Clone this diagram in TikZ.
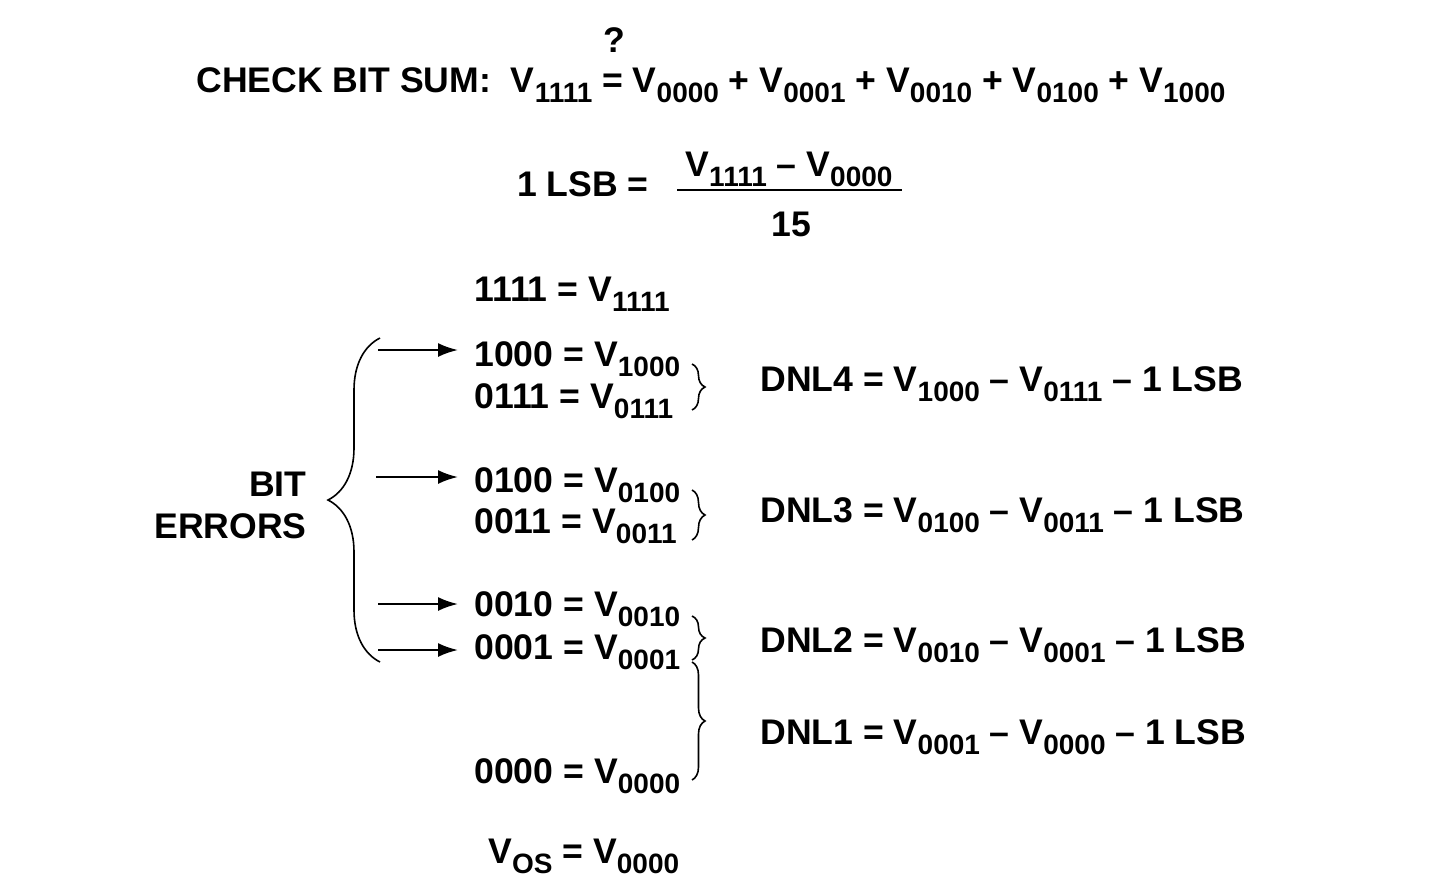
\documentclass[tikz,border=0pt]{standalone}
\usepackage{fontspec}
\setmainfont{Liberation Sans}
\usetikzlibrary{decorations.pathreplacing, arrows.meta}
\newcommand{\Vsub}[1]{V\raisebox{-0.55ex}{\fontsize{14}{16}\selectfont #1}}

\begin{document}
\begin{tikzpicture}[x=0.5pt, y=-0.5pt,
  every node/.style={font=\fontsize{17.8}{20}\selectfont\bfseries, inner sep=0pt},
  row/.style={anchor=base west},
  dnl/.style={anchor=base west},
  cbrace/.style={decorate, decoration={brace, amplitude=6.5pt}, line width=0.8pt},
  bitarrow/.style={-{Latex[length=10pt, width=7pt]}, line width=1.1pt}]
\useasboundingbox (0,0) rectangle (1440,889);
%\draw[help lines] (0,0) grid[step=100] (1440,889);
\node (q) at (614,52) [anchor=base] {?};
\node (sum) at (711,92) [anchor=base] {CHECK BIT SUM:\ \ \Vsub{1111} = \Vsub{0000} + \Vsub{0001} + \Vsub{0010} + \Vsub{0100} + \Vsub{1000}};
\node (lsb) at (655,196) [anchor=base east] {1 LSB =\,};
\node (num) at (789,176) [anchor=base] {\Vsub{1111} -- \Vsub{0000}};
\node (den) at (791,236) [anchor=base] {15};
\draw [line width=1.2pt] (677,190) -- (902,190);

% code rows
\node [row] (r1111) at (474,301) {1111 = \Vsub{1111}};
\node [row] (r1000) at (474,366) {1000 = \Vsub{1000}};
\node [row] (r0111) at (474,408) {0111 = \Vsub{0111}};
\node [row] (r0100) at (474,492) {0100 = \Vsub{0100}};
\node [row] (r0011) at (474,533) {0011 = \Vsub{0011}};
\node [row] (r0010) at (474,616) {0010 = \Vsub{0010}};
\node [row] (r0001) at (474,659) {0001 = \Vsub{0001}};
\node [row] (r0000) at (474,783) {0000 = \Vsub{0000}};
\node [row] (vos) at (488,863) {V\raisebox{-0.55ex}{\fontsize{14}{16}\selectfont OS} = \Vsub{0000}};

% differences
\node [dnl] (dnl4) at (760,391) {DNL4 = \Vsub{1000} -- \Vsub{0111} -- 1 LSB};
\node [dnl] (dnl3) at (760,522) {DNL3 = \Vsub{0100} -- \Vsub{0011} -- 1 LSB};
\node [dnl] (dnl2) at (760,652) {DNL2 = \Vsub{0010} -- \Vsub{0001} -- 1 LSB};
\node [dnl] (dnl1) at (760,744) {DNL1 = \Vsub{0001} -- \Vsub{0000} -- 1 LSB};

\draw [cbrace] (692,364) -- (692,410);
\draw [cbrace] (692,490) -- (692,540);
\draw [cbrace] (692,616) -- (692,660);
\draw [cbrace] (692,662) -- (692,780);

% bit errors
\node (bit) at (307,496) [anchor=base east] {BIT};
\node (err) at (307,538) [anchor=base east] {ERRORS};
\draw [cbrace, decoration={brace, amplitude=26pt, mirror}] (380,338) -- (380,662);
\coordinate (a1) at (378,350);
\coordinate (a2) at (376,477);
\coordinate (a3) at (378,604);
\coordinate (a4) at (378,650);
\draw [bitarrow] (a1) -- ([xshift=-8] r1000.west |- a1);
\draw [bitarrow] (a2) -- ([xshift=-8] r0100.west |- a2);
\draw [bitarrow] (a3) -- ([xshift=-8] r0010.west |- a3);
\draw [bitarrow] (a4) -- ([xshift=-8] r0001.west |- a4);
\end{tikzpicture}
\end{document}
